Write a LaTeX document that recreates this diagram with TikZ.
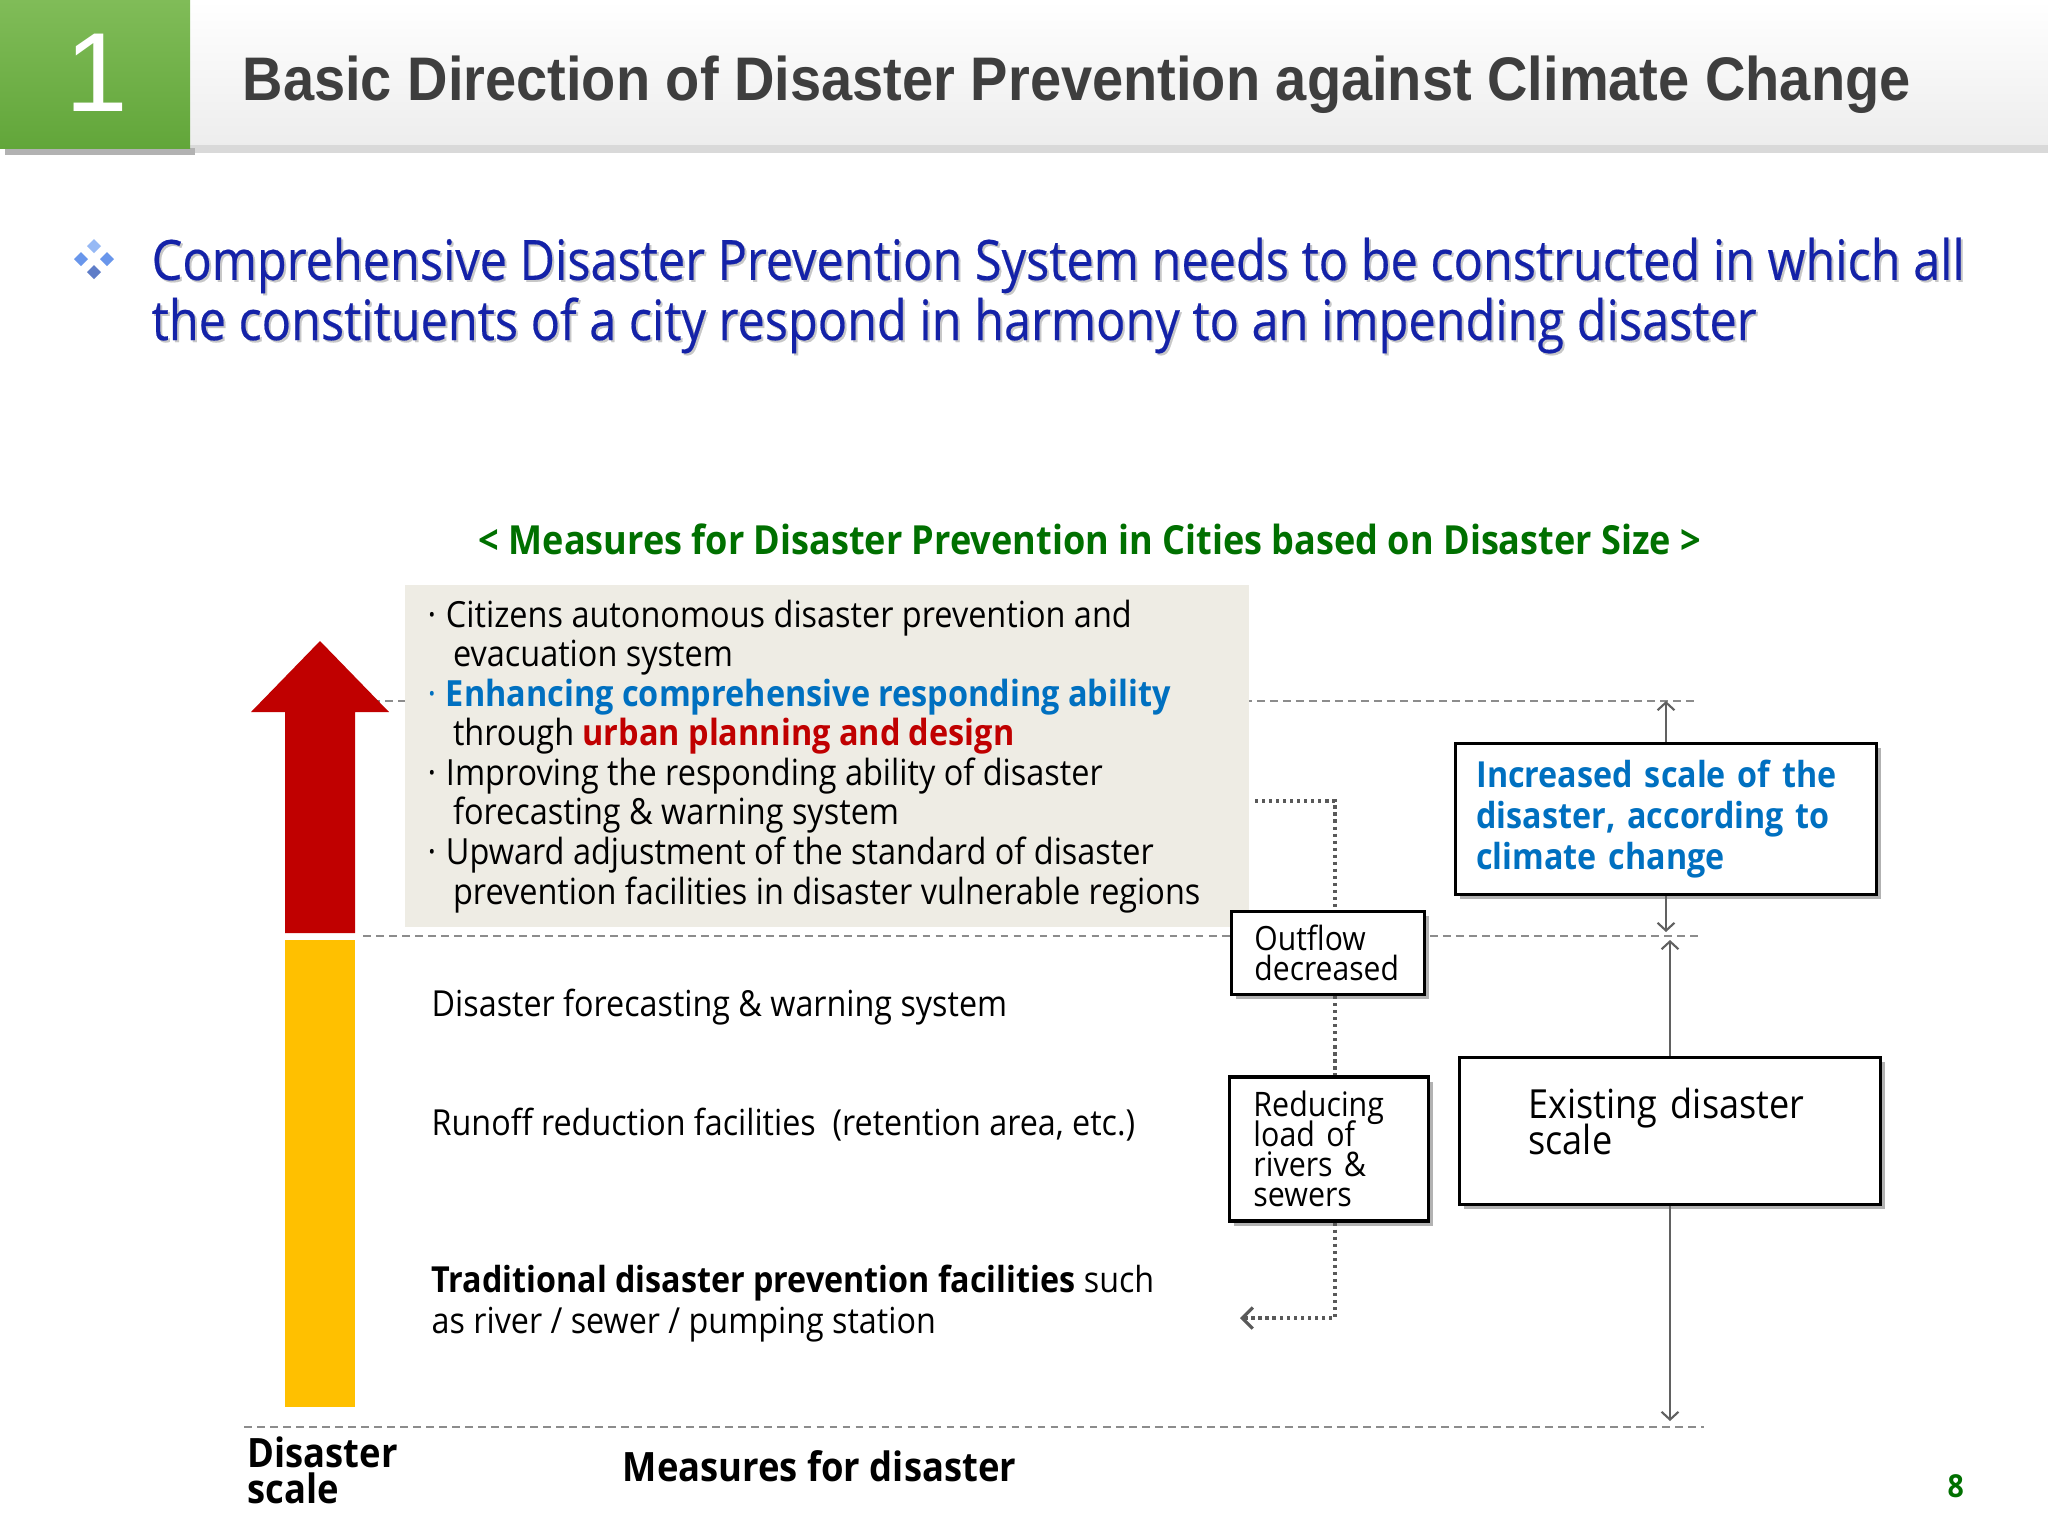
\documentclass[tikz,border=0pt]{standalone}
\usepackage{fontspec}
\setmainfont{Open Sans}[FakeStretch=0.9]
\newfontfamily\titlefont{Liberation Sans}[FakeStretch=0.91]
\newfontfamily\numfont{Liberation Sans}
\newfontfamily\leadfont{Open Sans}[FakeStretch=0.875, FakeBold=0.35]
\usetikzlibrary{arrows.meta,positioning,calc,shadows}
\definecolor{tabGreenA}{RGB}{128,188,88}
\definecolor{tabGreenB}{RGB}{98,166,58}
\definecolor{titleGray}{RGB}{62,62,62}
\definecolor{leadNavy}{RGB}{20,34,168}
\definecolor{capGreen}{RGB}{0,112,0}
\definecolor{panelBg}{RGB}{238,236,228}
\definecolor{mBlue}{RGB}{0,112,192}
\definecolor{mRed}{RGB}{192,0,0}
\definecolor{barRed}{RGB}{192,0,0}
\definecolor{barYellow}{RGB}{255,192,0}
\definecolor{gemA}{RGB}{150,185,245}
\definecolor{gemB}{RGB}{105,150,235}
\definecolor{gemC}{RGB}{95,125,200}
\tikzset{
  levelln/.style={draw=black!45, line width=0.6pt, dash pattern=on 2.2pt off 1.5pt},
  flowln/.style={draw=black!65, line width=0.9pt, dash pattern=on 0.9pt off 1.1pt},
  scaleln/.style={draw=black!62, line width=0.6pt, -{Straight Barb[length=2.2pt,width=4.8pt]}},
  sizebox/.style={draw=black, line width=0.9pt, fill=white, align=left, inner ysep=0pt,
    drop shadow={shadow xshift=1.3pt, shadow yshift=-1.3pt, opacity=0.3, fill=black}},
  txt/.style={anchor=base west, inner sep=0pt, align=left},
}
\newcommand{\pdot}{\makebox[5.2pt][l]{·}}
\newcommand{\pcont}{\hspace*{7.2pt}}
\newcommand{\tight}{\lineskiplimit=-20pt}

\begin{document}
\begin{tikzpicture}[x=0.01cm, y=-0.01cm]
  \useasboundingbox (0,0) rectangle (2048,1536);
  \fill[white] (0,0) rectangle (2048,1536);
  % header
  \shade[top color=white, bottom color=black!7] (190,0) rectangle (2048,145);
  \fill[black!15] (150,145) rectangle (2048,153);
  \fill[black!30] (5,148) rectangle (195,155);
  \shade[top color=tabGreenA, bottom color=tabGreenB] (0,0) rectangle (190,148);
  \node[anchor=base, inner sep=0pt, text=white, font=\numfont\fontsize{32}{34}\selectfont] (tabnum) at (97,111) {1};
  \node[txt, text=titleGray, font=\titlefont\bfseries\fontsize{17.5}{20}\selectfont] (title) at (242,100)
    {Basic Direction of Disaster Prevention against Climate Change};
  % lead sentence with gem bullet
  \foreach \dx/\dy/\gc in {0/-13/gemA, -13/0/gemB, 13/0/gemB, 0/13/gemC}
    \fill[\gc] (94+\dx,252+\dy) -- (101+\dx,259+\dy) -- (94+\dx,266+\dy) -- (87+\dx,259+\dy) -- cycle;
  \node[txt, text=black!22, font=\leadfont\fontsize{15.8}{17.1}\selectfont] at (153,342)
    {Comprehensive Disaster Prevention System needs to be constructed in which all\\the constituents of a city respond in harmony to an impending disaster};
  \node[txt, text=leadNavy, font=\leadfont\fontsize{15.8}{17.1}\selectfont] (lead) at (151,340)
    {Comprehensive Disaster Prevention System needs to be constructed in which all\\the constituents of a city respond in harmony to an impending disaster};
  \node[anchor=base, inner sep=0pt, text=capGreen, font=\bfseries\fontsize{11.4}{13}\selectfont] (caption) at (1090,554)
    {< Measures for Disaster Prevention in Cities based on Disaster Size >};
  % disaster levels
  \coordinate (lvlTop) at (1698,701);
  \coordinate (lvlMid) at (1698,936);
  \coordinate (lvlBot) at (1704,1427);
  \draw[levelln] (372,701) -- (lvlTop);
  \draw[levelln] (363,936) -- (lvlMid);
  \draw[levelln] (244,1427) -- (lvlBot);
  % measures against the increased scale
  \node[fill=panelBg, minimum width=8.44cm, minimum height=3.42cm, inner sep=0pt] (panel) at (827,756) {};
  \node[txt, font=\fontsize{10.25}{11.24}\selectfont\tight] (measHigh) at (427,904)
    {\pdot Citizens autonomous disaster prevention and\\
     \pcont evacuation system\\
     \textcolor{mBlue}{\pdot\textbf{Enhancing comprehensive responding ability}}\\
     \pcont through \textcolor{mRed}{\textbf{urban planning and design}}\\
     \pdot Improving the responding ability of disaster\\
     \pcont forecasting \& warning system\\
     \pdot Upward adjustment of the standard of disaster\\
     \pcont prevention facilities in disaster vulnerable regions};
  \node[txt, font=\fontsize{10.2}{12}\selectfont] (measWarn) at (431,1016) {Disaster forecasting \& warning system};
  \node[txt, font=\fontsize{10.2}{12}\selectfont] (measRunoff) at (431,1135) {Runoff reduction facilities\ \ (retention area, etc.)};
  \node[txt, font=\fontsize{10.2}{11.4}\selectfont\tight] (measTrad) at (431,1333)
    {\textbf{Traditional disaster prevention facilities} such\\as river / sewer / pumping station};
  % disaster scale arrow
  \fill[barRed] (320,641) -- (389,712) -- (355,712) -- (355,933) -- (285,933) -- (285,712) -- (251,712) -- cycle;
  \fill[barYellow] (285,940) rectangle (355,1407);
  % boxes
  \node[sizebox, minimum width=1.93cm, minimum height=0.83cm, text width=1.47cm, inner xsep=0.23cm,
    font=\fontsize{9.5}{8.5}\selectfont\tight] (outflow) at (1328,953) {Outflow\\decreased};
  \node[sizebox, minimum width=1.99cm, minimum height=1.44cm, text width=1.51cm, inner xsep=0.24cm,
    font=\fontsize{9.6}{8.5}\selectfont\tight] (reduce) at (1329,1149) {Reducing\\load of\\rivers \&\\sewers};
  \node[sizebox, minimum width=4.21cm, minimum height=1.51cm, text width=3.79cm, inner xsep=0.21cm,
    text=mBlue, font=\bfseries\fontsize{10.2}{11.7}\selectfont] (incr) at (1666,819)
    {Increased scale of the\\disaster, according to\\climate change};
  \node[sizebox, minimum width=4.21cm, minimum height=1.47cm, text width=2.83cm, inner xsep=0.69cm,
    text depth=15.8pt, font=\fontsize{11.4}{10.3}\selectfont\tight] (exist) at (1670,1131) {Existing disaster\\scale};
  % scale change arrows
  \draw[scaleln] (incr.north) -- (incr.north |- lvlTop);
  \draw[scaleln] (incr.south) -- ($(incr.south |- lvlMid)+(0,-4)$);
  \draw[scaleln] (exist.north) -- ($(exist.north |- lvlMid)+(0,4)$);
  \draw[scaleln] (exist.south) -- ($(exist.south |- lvlBot)+(0,-6)$);
  % outflow path
  \coordinate (flowIn) at (1255,801);
  \coordinate (flowOut) at (1240,1318);
  \coordinate (flowX) at ([xshift=0.07cm]outflow.north);
  \draw[flowln] (flowIn) -| (flowX);
  \draw[flowln] (flowX |- outflow.south) -- (flowX |- reduce.north);
  \draw[flowln, -{Straight Barb[length=3pt,width=6pt]}] (flowX |- reduce.south) |- (flowOut);
  % axis labels
  \node[txt, font=\bfseries\fontsize{11.5}{10}\selectfont\tight] (axisScale) at (247,1503) {Disaster\\scale};
  \node[txt, font=\bfseries\fontsize{11.5}{14}\selectfont] (axisMeas) at (622,1481) {Measures for disaster};
  \node[txt, text=capGreen, font=\bfseries\fontsize{9}{11}\selectfont] (pageno) at (1947,1497) {8};
\end{tikzpicture}
\end{document}
